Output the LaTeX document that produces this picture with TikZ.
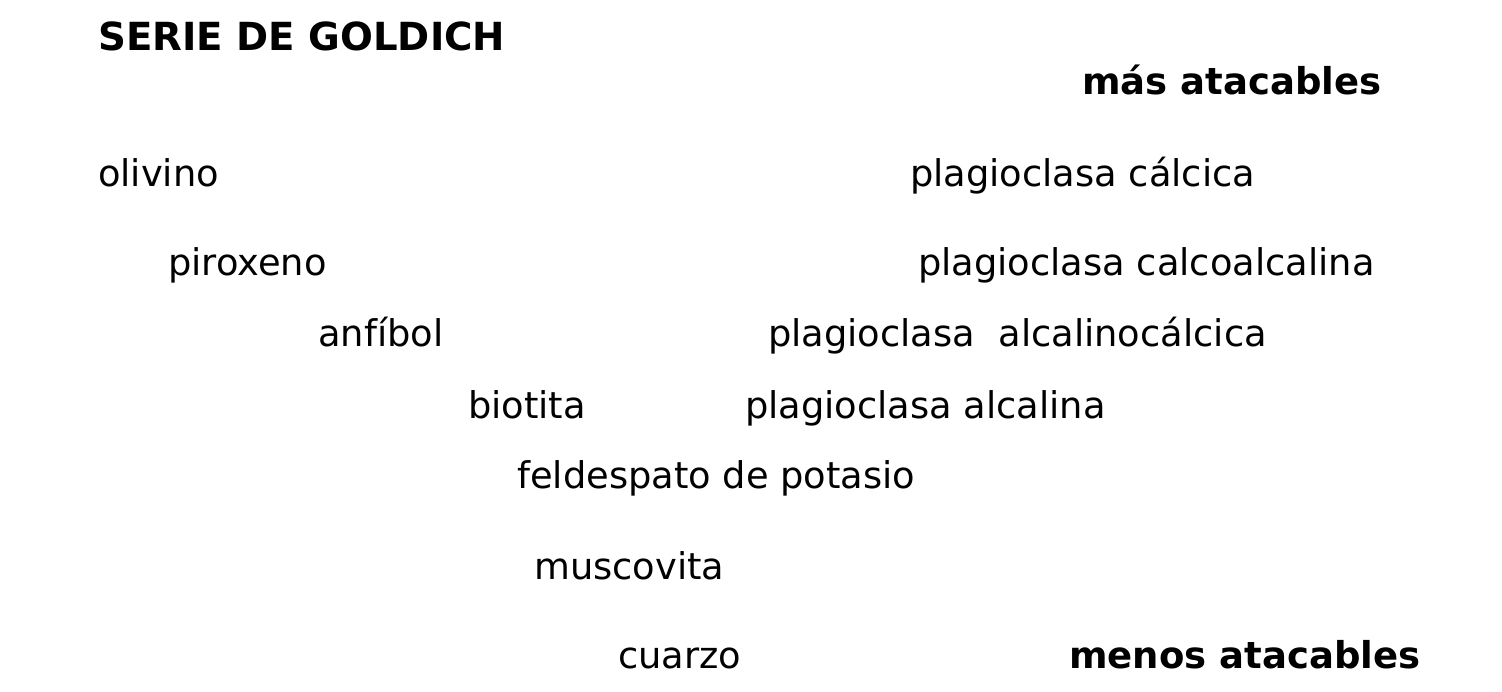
\documentclass[tikz,border=0pt]{standalone}
\usepackage{fontspec}
\setmainfont{DejaVu Sans}
\begin{document}
\begin{tikzpicture}[x=1pt,y=-1pt,
  lbl/.style={anchor=base west,inner sep=0pt,font=\fontsize{36.8}{44}\selectfont},
  ttl/.style={anchor=base west,inner sep=0pt,font=\fontsize{38.7}{46}\selectfont\bfseries},
  ext/.style={anchor=base west,inner sep=0pt,font=\fontsize{37}{44}\selectfont\bfseries}]
\useasboundingbox (0,0) rectangle (1502,692);
\node[ttl] (title) at (98,51) {SERIE DE GOLDICH};
\node[ext] (mas) at (1082,95) {más atacables};
\node[ext] (menos) at (1069,668) {menos atacables};
\node[lbl] (olivino) at (98,187) {olivino};
\node[lbl] (piroxeno) at (168,276) {piroxeno};
\node[lbl] (anfibol) at (318,347) {anfíbol};
\node[lbl] (biotita) at (468,418) {biotita};
\node[lbl] (feld) at (517,488) {feldespato de potasio};
\node[lbl] (musc) at (534,579) {muscovita};
\node[lbl] (cuarzo) at (618,668) {cuarzo};
\node[lbl] (pc) at (910,187) {plagioclasa cálcica};
\node[lbl] (pca) at (918,276) {plagioclasa calcoalcalina};
\node[lbl] (pac) at (768,347) {plagioclasa\ \ alcalinocálcica};
\node[lbl] (pa) at (745,418) {plagioclasa alcalina};
\end{tikzpicture}
\end{document}
